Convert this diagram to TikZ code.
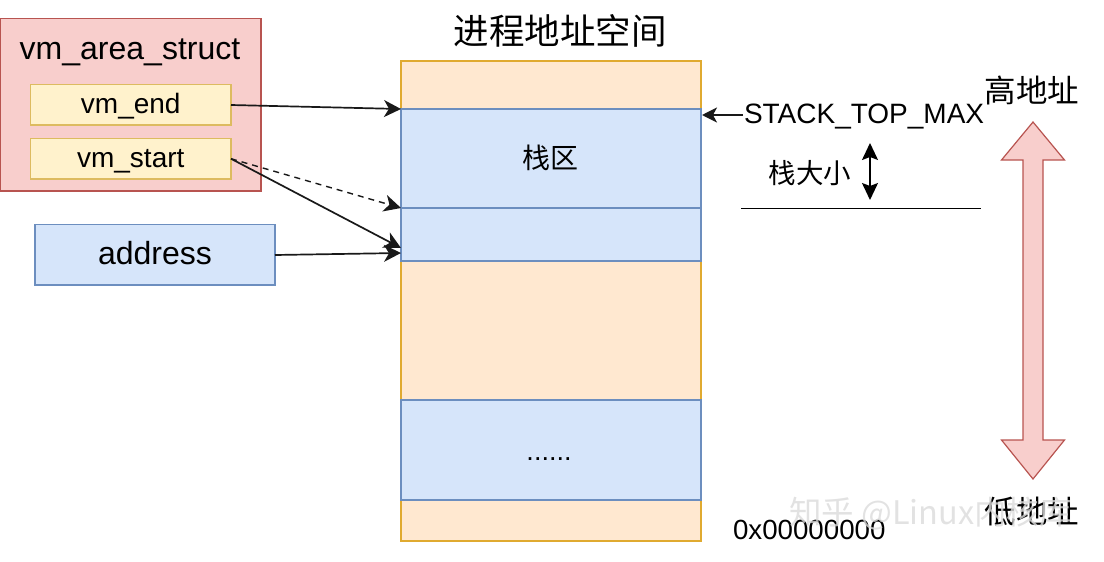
\documentclass[tikz,border=0pt]{standalone}
\usepackage{fontspec}
\setmainfont{Liberation Sans}
\newfontfamily\cjk{Noto Sans CJK SC}
\usetikzlibrary{arrows.meta}
\definecolor{redf}{HTML}{F8CECC}\definecolor{reds}{HTML}{B85450}
\definecolor{yelf}{HTML}{FFF2CC}\definecolor{yels}{HTML}{DDBB60}
\definecolor{oraf}{HTML}{FFE8D0}\definecolor{oras}{HTML}{E0AA30}
\definecolor{bluf}{HTML}{D6E5FA}\definecolor{blus}{HTML}{6C8EBF}
\newcommand{\fs}[1]{\fontsize{#1}{#1}\selectfont}
\tikzset{
  x=1pt,y=-1pt,
  box/.style={draw,line width=1.4pt,inner sep=0pt,outer sep=0pt,anchor=north west},
  redbox/.style={box,draw=reds,fill=redf},
  yelbox/.style={box,draw=yels,fill=yelf,minimum width=200.5pt,minimum height=40.5pt,text=black,text height=21.5pt,text depth=4.5pt},
  orabox/.style={box,draw=oras,fill=oraf,minimum width=300pt},
  blubox/.style={box,draw=blus,fill=bluf,minimum width=300pt},
  lbl/.style={inner sep=0pt,outer sep=0pt,text=black},
  conn/.style={line width=1.7pt,draw=black!90,-{Stealth[length=17pt,width=17pt,inset=5pt]}},
  bigarrow/.style={draw=reds,fill=redf,line width=1.2pt,line join=miter},
}
\begin{document}
\begin{tikzpicture}
\useasboundingbox (0,0) rectangle (1104,562);
% memory column
\node[orabox,minimum height=48pt] (s1) at (401,61) {};
\node[orabox,minimum height=139pt] (s4) at (401,261) {};
\node[orabox,minimum height=41pt] (s6) at (401,500) {};
\node[blubox,minimum height=99pt] (s2) at (401,109) {};
\node[blubox,minimum height=53pt] (s3) at (401,208) {};
\node[blubox,minimum height=100pt] (s5) at (401,400) {};
\node[lbl] (stacktxt) at (550,158) {\cjk\fs{28}栈区};
\node[lbl] (dots) at (549,459) {\fs{27}......};
\node[lbl] (title) at (560,31) {\cjk\fs{35.5}进程地址空间};
% struct
\node[redbox,minimum width=260.5pt,minimum height=172.5pt] (area) at (0.5,18.5) {};
\node[lbl] (areatxt) at (130,52) {\fs{32}vm\_area\_struct};
\node[yelbox] (vmend) at (30.5,84.5) {\fs{28}vm\_end};
\node[yelbox] (vmstart) at (30.5,138.5) {\fs{28}vm\_start};
\node[box,draw=blus,fill=bluf,minimum width=240pt,minimum height=60.5pt,text height=20pt,text depth=0pt] (addr) at (35,224.5) {\fs{32}address};
% targets
\coordinate (tEnd) at (s2.north west);
\coordinate (tDash) at (s3.north west);
\coordinate (tStart) at (401,248);
\coordinate (tAddr) at (401,253);
\coordinate (vmendOut) at (231,105);
\coordinate (addrOut) at (275,255);
\draw[conn] (vmendOut) -- (tEnd);
\draw[conn] (vmstart.east) -- (tStart);
\draw[line width=1.4pt,draw=black!90,dash pattern=on 6pt off 5pt,-{Stealth[length=17pt,width=17pt,inset=5pt]}] (vmstart.east) -- (tDash);
\draw[conn] (addrOut) -- (tAddr);
% right side
\node[lbl,anchor=west] (top) at (744,117) {\fs{28}STACK\_TOP\_MAX};
\coordinate (topOut) at (743,115);
\coordinate (topIn) at (702,115);
\draw[conn,line width=1.5pt,-{Stealth[length=15pt,width=15pt,inset=4pt]}] (topOut) -- (topIn);
\node[lbl] (size) at (810,173) {\cjk\fs{27.5}栈大小};
\coordinate (upT) at (870,143);
\coordinate (upB) at (870,200);
\draw[line width=1.5pt,draw=black,{Stealth[length=17pt,width=16pt,inset=3pt]}-{Stealth[length=17pt,width=16pt,inset=3pt]}] (upT) -- (upB);
\coordinate (lineL) at (741,208.5);
\coordinate (lineR) at (981,208.5);
\draw[line width=1.5pt] (lineL) -- (lineR);
\node[lbl] (hi) at (1032,90) {\cjk\fs{31.5}高地址};
\path[bigarrow] (1033,122) -- (1064.5,160) -- (1043,160) -- (1043,440) -- (1064.5,440) -- (1033,479) -- (1001.5,440) -- (1023,440) -- (1023,160) -- (1001.5,160) -- cycle;
% bottom
\node[lbl,anchor=west] (zero) at (733,530) {\fs{27.7}0x00000000};
\node[lbl] (lo) at (1032,512) {\cjk\fs{31.5}低地址};
\node[lbl,anchor=west,text=black!14,opacity=.8] (wm) at (789,514) {\cjk\fs{32.5}知乎 @Linux内核库};
\end{tikzpicture}
\end{document}
